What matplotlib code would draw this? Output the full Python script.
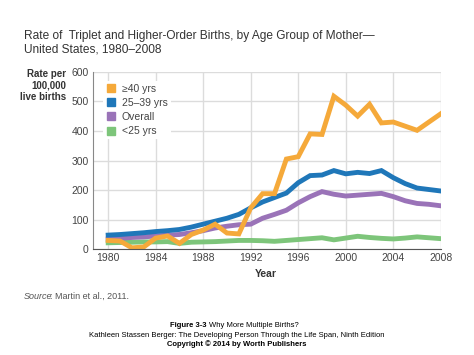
import numpy as np
import matplotlib
matplotlib.use("Agg")
import matplotlib.pyplot as plt

years = list(range(1980, 2009))
over40 = [30, 28, 5, 8, 38, 45, 20, 50, 65, 85, 55, 52, 140, 188, 188, 305, 313,
          390, 388, 517, 487, 450, 490, 427, 430, 416, 402, 430, 458]
age25_39 = [48, 50, 53, 56, 60, 63, 67, 75, 85, 95, 105, 118, 140, 160, 175, 190,
            225, 249, 251, 266, 255, 260, 256, 266, 242, 222, 207, 202, 197]
overall = [35, 37, 40, 42, 45, 48, 50, 56, 63, 72, 78, 83, 85, 105, 118, 132, 157,
           178, 195, 186, 180, 183, 186, 189, 178, 164, 155, 152, 147]
under25 = [22, 23, 24, 25, 25, 26, 20, 24, 25, 26, 28, 30, 30, 29, 27, 30, 33, 36,
           39, 32, 38, 44, 40, 37, 35, 38, 42, 39, 36]

series = [
    ("\u226540 yrs", over40, "#f5a93a"),
    ("25\u201339 yrs", age25_39, "#1f77b9"),
    ("Overall", overall, "#9a73b8"),
    ("<25 yrs", under25, "#7dc57a"),
]

plt.rcParams['font.family'] = ['Liberation Sans', 'DejaVu Sans']

fig = plt.figure(figsize=(4.74, 3.55), dpi=100)
ax = fig.add_axes([0.1956, 0.2977, 0.7344, 0.5003])

# draw bottom-up so orange stays on top
for label, vals, col in reversed(series):
    ax.plot(years, vals, color=col, lw=3.5, solid_joinstyle="miter", label=label)

ax.set_xlim(1978.7, 2008)
ax.set_ylim(0, 600)
ax.set_xticks(range(1980, 2009, 4))
ax.set_yticks(range(0, 601, 100))
ax.grid(True, color="#dcdcdc", lw=1)
ax.set_axisbelow(True)
ax.tick_params(length=0, labelsize=7.5, colors="#444444", pad=3)
for s in ["top", "right"]:
    ax.spines[s].set_visible(False)
ax.spines["left"].set_color("#888888")
ax.spines["bottom"].set_color("#555555")

handles, labels = ax.get_legend_handles_labels()
handles = handles[::-1]
labels = labels[::-1]
sq = [plt.Line2D([], [], marker="s", ls="", ms=5.5, color=h.get_color()) for h in handles]
leg = ax.legend(sq, labels, loc="upper left", bbox_to_anchor=(0.03, 0.95),
                frameon=True, fontsize=7.5, handletextpad=0.5, labelspacing=0.4,
                borderpad=0.3, handlelength=1.0, borderaxespad=0)
leg.get_frame().set_edgecolor("none")
leg.get_frame().set_facecolor("white")
leg.get_frame().set_alpha(1)
for t in leg.get_texts():
    t.set_color("#444444")

fig.text(0.05, 0.915, "Rate of  Triplet and Higher-Order Births, by Age Group of Mother\u2014\nUnited States, 1980\u20132008",
         fontsize=8.6, color="#333333", va="top", linespacing=1.2)
fig.text(0.14, 0.805, "Rate per\n100,000\nlive births", fontsize=7, color="#333333",
         ha="right", va="top", fontweight="bold", linespacing=1.15)
fig.text(0.561, 0.22, "Year", fontsize=7.5, color="#333333", ha="center",
         fontweight="bold")
fig.text(0.05, 0.157, "Source", fontsize=6.5, color="#555555", style="italic")
fig.text(0.105, 0.157, ": Martin et al., 2011.", fontsize=6.5, color="#555555")

fig.text(0.435, 0.078, "Figure 3-3", fontsize=5.5, fontweight="bold", ha="right")
fig.text(0.44, 0.078, "Why More Multiple Births?", fontsize=5.5, ha="left")
fig.text(0.5, 0.052, "Kathleen Stassen Berger: The Developing Person Through the Life Span, Ninth Edition",
         fontsize=5.5, ha="center")
fig.text(0.5, 0.026, "Copyright \u00a9 2014 by Worth Publishers", fontsize=5.5,
         ha="center", fontweight="bold")

fig.savefig("out.png", dpi=100)
